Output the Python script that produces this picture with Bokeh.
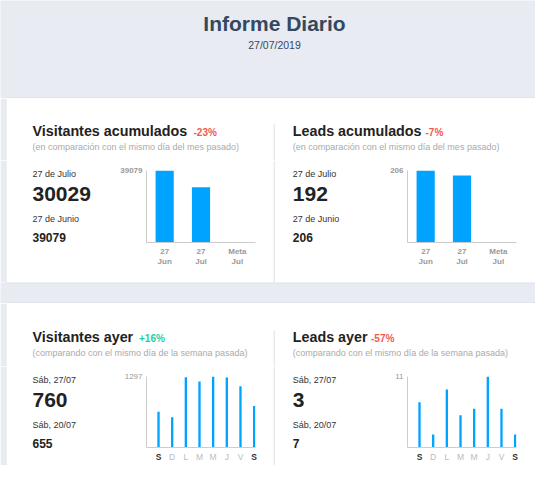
from bokeh.plotting import figure
from bokeh.models import Range1d, FixedTicker, NumeralTickFormatter, LinearAxis
from bokeh.layouts import column, row
from bokeh.core.properties import value
from bokeh.embed import file_html
from bokeh.resources import INLINE

# ---------------- data ----------------
report_title = "Informe Diario"
report_date = "27/07/2019"

acc_categories = ["27\nJun", "27\nJul", "Meta\nJul"]
visits_acc = [39079, 30029, 0]
leads_acc = [206, 192, 0]

week_days = ["S", "D", "L", "M", "M", "J", "V", "S"]
visits_week = [655, 551, 1284, 1206, 1297, 1280, 1121, 760]
leads_week = [7, 2, 9, 5, 6, 11, 6, 2]

card_titles = ["Visitantes acumulados", "Leads acumulados", "Visitantes ayer", "Leads ayer"]
card_changes = ["-23%", "-7%", "+16%", "-57%"]
card_subtitles = [
    "(en comparación con el mismo día del mes pasado)",
    "(en comparación con el mismo día del mes pasado)",
    "(comparando con el mismo día de la semana pasada)",
    "(comparando con el mismo día de la semana pasada)",
]
current_labels = ["27 de Julio", "27 de Julio", "Sáb, 27/07", "Sáb, 27/07"]
current_values = [30029, 192, 760, 3]
previous_labels = ["27 de Junio", "27 de Junio", "Sáb, 20/07", "Sáb, 20/07"]
previous_values = [39079, 206, 655, 7]

# ---------------- style ----------------
FONT = "Liberation Sans"
BG = "#e8ebf2"
CARD_LINE = "#dcdfe6"
DIVIDER = "#d6d6d6"
BLUE = "#00a3ff"
AXIS = "#cccccc"
TICK = "#999999"
DARK = "#222222"
LABEL = "#333333"
RED = "#f2594b"
GREEN = "#1fcf9f"
SUB = "#aaaaaa"
HEAD = "#34495e"
CARD_X = 5  # left edge of the white cards


def no_align(p):
    try:
        p.frame_align = False
    except Exception:
        pass
    return p


def text_fig(w, h, bg="white"):
    p = figure(width=w, height=h, x_range=Range1d(0, w), y_range=Range1d(h, 0),
               toolbar_location=None, output_backend="svg", min_border=0,
               x_axis_location=None, y_axis_location=None, outline_line_color=None,
               background_fill_color=bg, border_fill_color=bg)
    p.grid.visible = False
    return no_align(p)


def card_left_edge(p, h):
    p.quad(left=[0], right=[CARD_X], top=[0], bottom=[h], fill_color=BG, line_color=None)
    p.segment(x0=[CARD_X + 0.5], y0=[0], x1=[CARD_X + 0.5], y1=[h], line_color=CARD_LINE, line_width=1)


def put(p, x, y, s, size, color, style="normal", align="left"):
    p.text(x=[x], y=[y], text=[s], text_font=value(FONT), text_font_size=value(size),
           text_font_style=style, text_color=color, text_align=align,
           text_baseline="middle")


def card_top(w, h, idx, x0, pct_x, c_title, c_sub, divider_from=None):
    p = text_fig(w, h)
    if divider_from is None:
        card_left_edge(p, h)
    put(p, x0, c_title, card_titles[idx], "14.3px", DARK, "bold")
    chg = card_changes[idx]
    put(p, pct_x, c_title + 1.5, chg, "10px", GREEN if chg.startswith("+") else RED, "bold")
    put(p, x0, c_sub, card_subtitles[idx], "9px", SUB)
    if divider_from is not None:
        p.segment(x0=[0.5], y0=[divider_from], x1=[0.5], y1=[h], line_color=DIVIDER, line_width=1)
    return p


def card_numbers(w, h, idx, x0, divider):
    p = text_fig(w, h)
    if not divider:
        card_left_edge(p, h)
    put(p, x0, 13.3, current_labels[idx], "9px", LABEL)
    put(p, x0, 33, str(current_values[idx]), "21px", DARK, "bold")
    put(p, x0, 58.8, previous_labels[idx], "9px", LABEL)
    put(p, x0, 77.4, str(previous_values[idx]), "12px", DARK, "bold")
    if divider:
        p.segment(x0=[0.5], y0=[0], x1=[0.5], y1=[h], line_color=DIVIDER, line_width=1)
    return p


def base_chart(w, h, ml, mr, mt, mb, xr, ymax, ybold):
    p = figure(width=w, height=h, x_range=Range1d(*xr), y_range=Range1d(0, ymax),
               toolbar_location=None, output_backend="svg",
               min_border_left=ml, min_border_right=mr, min_border_top=mt, min_border_bottom=mb,
               outline_line_color=None, background_fill_color="white", border_fill_color="white")
    no_align(p)
    p.grid.visible = False
    for ax in p.axis:
        ax.axis_line_color = AXIS
        ax.major_tick_line_color = None
        ax.minor_tick_line_color = None
        ax.major_tick_out = 0
        ax.major_tick_in = 0
        ax.minor_tick_out = 0
        ax.minor_tick_in = 0
        ax.major_label_text_font = FONT
        ax.major_label_text_color = TICK
    ya = p.yaxis[0]
    ya.ticker = FixedTicker(ticks=[ymax])
    ya.formatter = NumeralTickFormatter(format="0")
    ya.major_label_standoff = 4
    ya.major_label_text_font_size = "8px"
    ya.major_label_text_font_style = "bold" if ybold else "normal"
    return p


def acc_chart(w, h, ml, mr, values):
    xs = list(range(len(acc_categories)))
    p = base_chart(w, h, ml, mr, 10, 40, (-0.5, len(xs) - 0.5), max(values), True)
    p.vbar(x=xs, top=values, width=0.5, fill_color=BLUE, line_color=None)
    xa = p.xaxis[0]
    xa.ticker = FixedTicker(ticks=xs)
    xa.major_label_overrides = {x: lab for x, lab in zip(xs, acc_categories)}
    xa.major_label_standoff = 4
    xa.major_label_text_font_size = "8px"
    xa.major_label_text_font_style = "bold"
    return p


def week_chart(w, h, ml, mr, values):
    xs = list(range(len(week_days)))
    p = base_chart(w, h, ml, mr, 10, 18, (-0.88, len(xs) - 0.9), max(values), False)
    p.vbar(x=xs, top=values, width=0.17, fill_color=BLUE, line_color=None)
    hl = [0, len(xs) - 1]
    rest = [x for x in xs if x not in hl]
    xa = p.xaxis[0]
    xa.ticker = FixedTicker(ticks=rest)
    xa.major_label_overrides = {x: week_days[x] for x in rest}
    xa.major_label_standoff = 4
    xa.major_label_text_font_size = "8.5px"
    xa.major_label_text_color = "#bbbbbb"
    ax2 = LinearAxis(ticker=FixedTicker(ticks=hl),
                     major_label_overrides={x: week_days[x] for x in hl},
                     axis_line_color=None, major_tick_line_color=None, minor_tick_line_color=None,
                     major_tick_out=0, major_tick_in=0, minor_tick_out=0, minor_tick_in=0,
                     major_label_standoff=-13, major_label_text_font=FONT,
                     major_label_text_font_size="8.5px", major_label_text_font_style="bold",
                     major_label_text_color="#333333")
    p.add_layout(ax2, "below")
    return p


header = text_fig(535, 98, BG)
put(header, 274, 22.5, report_title, "21px", HEAD, "bold", "center")
put(header, 274, 44.2, report_date, "10.5px", HEAD, "normal", "center")
header.segment(x0=[CARD_X], y0=[97.5], x1=[535], y1=[97.5], line_color=CARD_LINE, line_width=1)

card1 = row(
    column(card_top(273, 62, 0, 32, 193, 32.5, 48.7),
           row(card_numbers(100, 122, 0, 32, False), acc_chart(173, 122, 46, 18, visits_acc))),
    column(card_top(262, 62, 1, 19.3, 152, 32.5, 48.7, 25),
           row(card_numbers(88, 122, 1, 19.3, True), acc_chart(174, 122, 46, 19, leads_acc))),
)

gap = text_fig(535, 21, BG)
gap.segment(x0=[CARD_X, CARD_X], y0=[0.5, 20.5], x1=[535, 535], y1=[0.5, 20.5],
            line_color=CARD_LINE, line_width=1)

card2 = row(
    column(card_top(273, 63, 2, 32, 138.5, 33.7, 49.7),
           row(card_numbers(100, 99, 2, 32, False), week_chart(173, 99, 46, 18, visits_week))),
    column(card_top(262, 63, 3, 19.3, 97.5, 33.7, 49.7, 27),
           row(card_numbers(88, 99, 3, 19.3, True), week_chart(174, 99, 46, 19, leads_week))),
)

page = column(header, card1, gap, card2)

open("out.html", "w").write(file_html(page, INLINE))
